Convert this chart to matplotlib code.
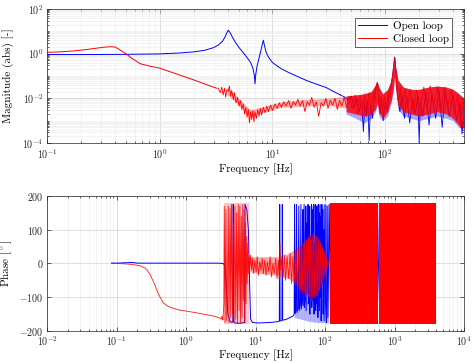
import numpy as np
import matplotlib
matplotlib.use("Agg")
import matplotlib.pyplot as plt
from matplotlib.ticker import LogLocator, FixedLocator, NullFormatter, LogFormatterSciNotation

plt.rcParams['font.family'] = ['cmr10', 'DejaVu Serif']
plt.rcParams['mathtext.fontset'] = 'cm'
plt.rcParams['axes.formatter.use_mathtext'] = True

# ---------------- Magnitude data (values in decades, log10 of |G|) ----------------
open_f_smooth = [0.1, 0.2, 0.5, 1.0, 1.5, 2.0, 2.5, 3.0, 3.3, 3.6, 3.8, 3.95, 4.05, 4.2, 4.4, 4.7,
                 5.0, 5.5, 6.0, 6.4, 6.7, 6.9, 7.0, 7.1, 7.3, 7.6, 7.9, 8.1, 8.3, 8.5, 8.8, 9.2,
                 10, 11, 12, 14, 16, 20, 25, 30, 35, 40]
open_mag_smooth = [-0.04, -0.04, -0.03, -0.01, 0.03, 0.08, 0.15, 0.27, 0.38, 0.55, 0.75, 0.95, 1.05,
                   0.95, 0.75, 0.5, 0.3, 0.05, -0.2, -0.4, -0.65, -0.95, -1.35, -0.95, -0.55, -0.2,
                   0.15, 0.4, 0.6, 0.35, 0.05, -0.15, -0.4, -0.55, -0.68, -0.85, -0.98, -1.2, -1.38,
                   -1.52, -1.7, -1.85]
open_f_noisy = [40, 44, 47, 50, 53, 56, 59, 62, 64, 66, 68, 70, 72, 74, 77, 80, 83, 85, 87, 90, 93,
                96, 100, 104, 108, 112, 116, 119, 121, 123, 126, 130, 135, 140, 148, 155, 165, 175,
                185, 195, 200, 205, 215, 230, 245, 260, 280, 300, 320, 340, 370, 400, 430, 460, 480, 500]
open_mag_noisy = [-1.85, -1.95, -2.1, -1.9, -2.4, -2.0, -2.6, -2.1, -3.5, -2.2, -2.8, -2.1, -3.9,
                  -2.3, -2.9, -1.9, -1.5, -1.3, -1.8, -2.7, -2.1, -3.0, -2.2, -2.6, -1.9, -1.5, -1.0,
                  -0.5, -0.15, -0.6, -1.3, -2.0, -2.6, -1.8, -2.9, -1.9, -3.1, -2.0, -2.7, -1.9, -4.0,
                  -2.2, -2.8, -1.7, -3.2, -1.8, -2.9, -1.6, -3.3, -1.7, -2.8, -1.8, -3.0, -2.2, -3.6, -2.4]
open_band_f = [45, 55, 65, 75, 82, 85, 88, 95, 105, 113, 118, 121, 124, 130, 145, 170, 200, 240, 290, 350, 400, 450, 500]
open_band_lo = [-2.7, -2.9, -3.1, -2.9, -2.6, -2.3, -2.8, -3.0, -2.8, -2.2, -1.7, -1.0, -1.7, -2.5,
                -2.8, -2.9, -3.0, -2.9, -2.8, -2.9, -3.0, -3.3, -3.4]
open_band_hi = [-1.9, -1.85, -1.8, -1.7, -1.4, -1.25, -1.5, -1.8, -1.6, -1.2, -0.7, -0.15, -0.6, -1.2,
                -1.5, -1.6, -1.6, -1.5, -1.45, -1.5, -1.6, -1.8, -2.0]

closed_f_smooth = [0.1, 0.13, 0.17, 0.22, 0.27, 0.32, 0.36, 0.40, 0.44, 0.50, 0.57, 0.67, 0.8, 1.0,
                   1.3, 1.7, 2.2, 2.7, 3.2]
closed_mag_smooth = [0.06, 0.08, 0.12, 0.18, 0.24, 0.29, 0.31, 0.30, 0.18, 0.0, -0.22, -0.45, -0.55,
                     -0.65, -0.85, -1.05, -1.25, -1.42, -1.55]
closed_f_noisy = [3.3, 3.45, 3.55, 3.65, 3.75, 3.85, 3.95, 4.05, 4.15, 4.25, 4.35, 4.5, 4.6, 4.75, 4.9,
                  5.05, 5.2, 5.35, 5.5, 5.65, 5.8, 5.95, 6.1, 6.25, 6.4, 6.55, 6.7, 6.85, 7.0, 7.2, 7.4,
                  7.6, 7.8, 8.0, 8.3, 8.6, 8.9, 9.2, 9.6, 10.0, 10.5, 11.0, 11.5, 12.0, 12.6, 13.2,
                  13.9, 14.6, 15.3, 16.0, 16.8, 17.6, 18.5, 19.4, 20.3, 21.3, 22.3, 23.4, 24.5, 25.7,
                  27.0, 28.3, 29.7, 31.1, 32.6, 34.2, 35.9, 37.6, 39.4, 41.3, 43.3, 45.4,
                  48, 51, 54, 57, 60, 63, 66, 69, 72, 75, 78, 81, 83, 85, 87, 89, 92, 95, 98, 102,
                  106, 110, 114, 117, 120, 122, 124, 127, 131, 136, 142, 150, 158, 167, 178, 190,
                  205, 220, 235, 250, 270, 290, 310, 335, 360, 385, 410, 440, 465, 485, 500]
closed_mag_noisy = [-1.55, -1.75, -1.5, -1.85, -1.55, -1.95, -1.6, -1.7, -1.45, -1.9, -1.65, -2.05,
                    -1.75, -2.2, -1.95, -2.35, -2.1, -2.5, -2.25, -2.7, -2.4, -2.85, -2.5, -3.1, -2.6,
                    -2.95, -2.55, -3.05, -2.6, -2.9, -2.5, -2.8, -2.45, -2.75, -2.4, -2.65, -2.35,
                    -2.6, -2.3, -2.55, -2.25, -2.45, -2.2, -2.4, -2.15, -2.35, -2.1, -2.45, -2.15,
                    -2.3, -2.05, -2.35, -2.1, -2.6, -2.15, -2.3, -1.95, -2.4, -2.15, -2.8, -2.2,
                    -2.35, -2.0, -2.45, -2.1, -2.3, -2.0, -2.5, -2.1, -2.35, -1.95, -2.4,
                    -1.9, -2.5, -1.85, -2.7, -1.9, -2.5, -1.8, -2.6, -1.75, -2.4, -1.7, -2.2, -1.5,
                    -1.3, -1.7, -2.5, -1.9, -2.7, -1.9, -2.4, -1.7, -2.0, -1.3, -0.9, -0.4, -0.2,
                    -0.7, -1.4, -2.2, -1.5, -2.5, -1.6, -2.4, -1.6, -2.6, -1.65, -2.4, -1.5, -2.5,
                    -1.45, -2.3, -1.5, -2.6, -1.5, -2.4, -1.6, -2.7, -1.8, -3.3, -2.1, -3.0]
closed_thin_f = [4.0, 5.0, 6.3, 8.0, 12, 20, 30, 45]
closed_thin_lo = [-1.85, -2.3, -2.85, -2.65, -2.4, -2.35, -2.3, -2.45]
closed_thin_hi = [-1.5, -2.0, -2.5, -2.4, -2.15, -2.05, -2.0, -1.9]
closed_band_f = [45, 55, 65, 75, 82, 85, 88, 95, 105, 113, 118, 121, 124, 130, 145, 170, 200, 240, 290, 350, 400, 450, 500]
closed_band_lo = [-2.6, -2.7, -2.8, -2.7, -2.5, -2.2, -2.6, -2.9, -2.6, -2.1, -1.6, -1.0, -1.6, -2.3,
                  -2.6, -2.7, -2.8, -2.7, -2.6, -2.7, -2.9, -3.2, -3.3]
closed_band_hi = [-1.9, -1.85, -1.8, -1.7, -1.4, -1.25, -1.5, -1.8, -1.6, -1.2, -0.7, -0.15, -0.6,
                  -1.2, -1.5, -1.6, -1.6, -1.5, -1.45, -1.5, -1.6, -1.8, -2.0]

# ---------------- Phase data (degrees) ----------------
open_ph_f = [0.085, 0.1, 0.17, 0.2, 0.5, 1, 2, 3, 3.4, 3.6, 3.8, 4.0, 4.3, 4.6, 4.72, 4.78, 4.85, 5.0,
             5.5, 6, 6.5, 7.0, 7.05, 7.5, 7.9, 8.2, 8.5, 9, 10, 12, 15, 18, 21, 22, 22.3, 22.6, 23.5,
             24, 24.3, 24.6, 26, 28, 30, 33, 35, 36, 36.5, 37, 38, 39, 39.5, 41, 42, 42.5, 44, 45,
             45.5, 47, 48, 48.5, 50, 50.5, 52, 53, 53.5, 55, 56, 57, 57.5, 59, 60, 60.5, 62, 63, 64,
             64.5, 66, 67, 67.5, 69, 69.5, 71, 72, 73, 73.5, 75, 76, 77, 78, 79, 80, 81, 82, 83, 85,
             86, 87, 88, 90, 91, 93, 94, 96, 97, 100, 102, 105, 107, 110, 115, 120]
open_ph = [1, 1, 3, 1, 1, 1, 1, 1, 0, -5, -60, -150, -172, -175, -170, 175, -170, -176, -177, -177,
           -176, -175, 175, 160, 100, -50, -165, -174, -176, -176, -175, -174, -172, -171, 175, -170,
           -170, -168, 175, -168, -167, -165, -162, -158, -155, -150, 175, -148, -140, 175, -145,
           -130, 170, -140, -120, 175, -135, -110, 160, -125, 175, -130, -100, 170, -140, 120, -90,
           175, -120, -60, 170, -150, 80, -100, 175, -130, -40, 160, -110, 175, -150, 60, -90, 175,
           -140, -30, 170, -120, 120, -160, 175, -70, 150, -140, 175, -100, 140, -170, 175, -60,
           160, -150, 100, -170, 175, -120, -175, 170, -160, 175, -175]
open_ph_hf_f = [570, 585, 600, 615, 630, 650]
open_ph_hf = [170, 20, -80, -150, -175, 170]
open_band_ph_f = [36, 45, 60, 80, 100, 112]
open_band_ph_lo = [-160, -165, -172, -175, -176, -176]
open_band_ph_hi = [-145, 60, 170, 175, 175, 175]

closed_ph_f = [0.085, 0.1, 0.13, 0.17, 0.22, 0.26, 0.3, 0.35, 0.4, 0.47, 0.55, 0.66, 0.8, 1.0, 1.4,
               2.0, 2.5, 3.0, 3.2, 3.3, 3.35, 3.4, 3.5, 3.55, 3.65, 3.75, 3.85, 3.95, 4.05, 4.15,
               4.3, 4.4, 4.5, 4.65, 4.8, 4.9, 5.05, 5.2, 5.35, 5.5, 5.65, 5.8, 5.95, 6.1, 6.25, 6.4,
               6.55, 6.7, 6.85, 7.0, 7.15, 7.3, 7.45, 7.6, 7.75, 7.9, 8.1, 8.3, 8.5, 8.8, 9.1, 9.4,
               9.8, 10.2, 10.6, 11.0, 11.5, 12.0, 12.5, 13.0, 13.6, 14.2, 14.8, 15.5, 16.2, 17.0,
               17.8, 18.6, 19.5, 20.4, 21.3, 22.0, 22.5, 23.0, 24.0, 25.0, 26.0, 27.0, 28.5, 30.0,
               31.5, 33.0, 34.5, 36.0, 38.0, 40.0, 42.0, 44.0, 46.0, 48.0, 50.0, 52.0, 54.0, 56.0,
               58.0, 60.0, 62.0, 65.0, 68.0, 71.0, 74.0, 77.0, 80.0, 83.0, 86.0, 89.0, 92.0, 95.0,
               98.0, 101, 104, 107, 110, 113]
closed_ph = [1, 0, -1, -3, -7, -14, -30, -60, -90, -117, -127, -133, -138, -141, -146, -152, -156,
             -161, -165, -155, -165, -168, -120, 170, -175, 160, -170, -60, 170, -175, 165, -160,
             175, -150, 120, -175, 170, -165, 150, -178, 175, -140, 170, -175, 140, -160, 175, -110,
             160, -175, 120, -120, 80, -60, 60, -30, 20, -15, 25, -20, 15, -30, 10, -25, 20, -35, 5,
             -20, 15, -30, 10, -35, 5, -25, 20, -40, 0, -30, 15, -45, 10, -50, 60, -20, 15, -40, 25,
             -50, 20, -45, 30, -60, 20, -55, 40, -70, 35, -80, 50, -90, 60, -100, 70, -90, 80, -100,
             70, -110, 90, -100, 80, -95, 70, -80, 60, -60, 45, -40, 30, -25, 15, -10, 5, 0]

# dense oscillating regions of the closed-loop phase
closed_osc_f = [3.5, 8.0]
closed_osc_lo = [-178, -178]
closed_osc_hi = [178, 178]
closed_noise_f = [8.3, 12, 20, 30, 38]
closed_noise_lo = [-25, -30, -35, -45, -60]
closed_noise_hi = [20, 20, 20, 30, 45]
closed_wedge_f = [38, 50, 60, 75, 90, 100, 112]
closed_wedge_lo = [-60, -85, -100, -95, -60, -35, 0]
closed_wedge_hi = [45, 65, 85, 85, 55, 30, 0]
closed_block_f = [[117, 470], [480, 575], [600, 4000]]
closed_block_lo = [-178, -178]
closed_block_hi = [178, 178]

mag_xticks = [1e-1, 1e0, 1e1, 1e2]
mag_yticks = [1e-4, 1e-2, 1e0, 1e2]
ph_xticks = [1e-2, 1e-1, 1e0, 1e1, 1e2, 1e3, 1e4]
ph_yticks = [-200, -100, 0, 100, 200]

BLUE = '#0000ff'
RED = '#ff0000'
FS = 8
TFS = 7.2

fig = plt.figure(figsize=(4.74, 3.63), dpi=100)
ax1 = fig.add_axes([0.0992, 0.6061, 0.8797, 0.3691])
ax2 = fig.add_axes([0.0992, 0.0882, 0.8797, 0.3719])

dec = lambda a: np.power(10.0, np.asarray(a, dtype=float))

# ---- magnitude ----
ax1.fill_between(open_band_f, dec(open_band_lo), dec(open_band_hi), color=BLUE, alpha=0.35, lw=0, zorder=2)
ax1.plot(open_f_smooth, dec(open_mag_smooth), color=BLUE, lw=0.7, label='Open loop', zorder=3)
ax1.plot(open_f_noisy, dec(open_mag_noisy), color=BLUE, lw=0.6, zorder=3)
ax1.fill_between(closed_thin_f, dec(closed_thin_lo), dec(closed_thin_hi), color=RED, alpha=0.3, lw=0, zorder=4)
ax1.fill_between(closed_band_f, dec(closed_band_lo), dec(closed_band_hi), color=RED, alpha=0.8, lw=0, zorder=4)
ax1.plot(closed_f_smooth, dec(closed_mag_smooth), color=RED, lw=0.7, label='Closed loop', zorder=5)
ax1.plot(closed_f_noisy, dec(closed_mag_noisy), color=RED, lw=0.6, zorder=5)

ax1.set_xscale('log')
ax1.set_yscale('log')
ax1.set_xlim(0.1, 500)
ax1.set_ylim(1e-4, 1e2)
ax1.xaxis.set_major_locator(FixedLocator(mag_xticks))
ax1.xaxis.set_major_formatter(LogFormatterSciNotation())
ax1.yaxis.set_major_locator(FixedLocator(mag_yticks))
ax1.yaxis.set_major_formatter(LogFormatterSciNotation())
ax1.yaxis.set_minor_locator(LogLocator(base=10, subs=np.arange(1, 10), numticks=50))
ax1.yaxis.set_minor_formatter(NullFormatter())
ax1.xaxis.set_minor_locator(LogLocator(base=10, subs=np.arange(2, 10), numticks=50))
ax1.xaxis.set_minor_formatter(NullFormatter())
ax1.set_xlabel('Frequency [Hz]', fontsize=FS, labelpad=1.5)
ax1.set_ylabel('Magnitude (abs) [-]', fontsize=FS)
leg = ax1.legend(loc='upper right', bbox_to_anchor=(0.971, 0.933), fontsize=FS, frameon=True,
                 fancybox=False, edgecolor='#262626', framealpha=1, handlelength=2.6,
                 borderpad=0.3, labelspacing=0.2, handletextpad=0.5, borderaxespad=0)
leg.get_frame().set_linewidth(0.5)
leg.set_zorder(10)

# ---- phase ----
ax2.fill_between(open_band_ph_f, open_band_ph_lo, open_band_ph_hi, color=BLUE, alpha=0.3, lw=0, zorder=2)
ax2.plot(open_ph_f, open_ph, color=BLUE, lw=0.7, zorder=2)
ax2.plot(open_ph_hf_f, open_ph_hf, color=BLUE, lw=0.7, zorder=2)
ax2.fill_between(closed_osc_f, closed_osc_lo, closed_osc_hi, color=RED, alpha=0.22, lw=0, zorder=3)
ax2.fill_between(closed_noise_f, closed_noise_lo, closed_noise_hi, color=RED, alpha=0.35, lw=0, zorder=3)
ax2.fill_between(closed_wedge_f, closed_wedge_lo, closed_wedge_hi, color=RED, alpha=0.5, lw=0, zorder=3)
for bf in closed_block_f:
    ax2.fill_between(bf, closed_block_lo, closed_block_hi, color=RED, lw=0, zorder=4)
ax2.plot(closed_ph_f, closed_ph, color=RED, lw=0.6, alpha=0.9, zorder=4)

ax2.set_xscale('log')
ax2.set_xlim(1e-2, 1e4)
ax2.set_ylim(-200, 200)
ax2.yaxis.set_major_locator(FixedLocator(ph_yticks))
ax2.xaxis.set_major_locator(FixedLocator(ph_xticks))
ax2.xaxis.set_major_formatter(LogFormatterSciNotation())
ax2.xaxis.set_minor_locator(LogLocator(base=10, subs=np.arange(2, 10), numticks=50))
ax2.xaxis.set_minor_formatter(NullFormatter())
ax2.set_xlabel('Frequency [Hz]', fontsize=FS, labelpad=1.5)
ax2.set_ylabel(r'Phase [$^\circ$]', fontsize=FS)

for ax in (ax1, ax2):
    ax.grid(True, which='major', color='#d0d0d0', lw=0.5, zorder=0)
    ax.grid(True, which='minor', color='#ebebeb', lw=0.4, zorder=0)
    ax.set_axisbelow(True)
    ax.tick_params(which='both', direction='in', top=True, right=True, labelsize=TFS,
                   colors='#262626', width=0.5, pad=2.5)
    ax.tick_params(which='major', length=3)
    ax.tick_params(which='minor', length=1.5)
    ax.yaxis.set_label_coords(-0.078, 0.5)
    for s in ax.spines.values():
        s.set_linewidth(0.5)
        s.set_color('#262626')
        s.set_zorder(6)
ax1.tick_params(axis='x', which='both', pad=3.5)

fig.savefig('out.png', dpi=100)
